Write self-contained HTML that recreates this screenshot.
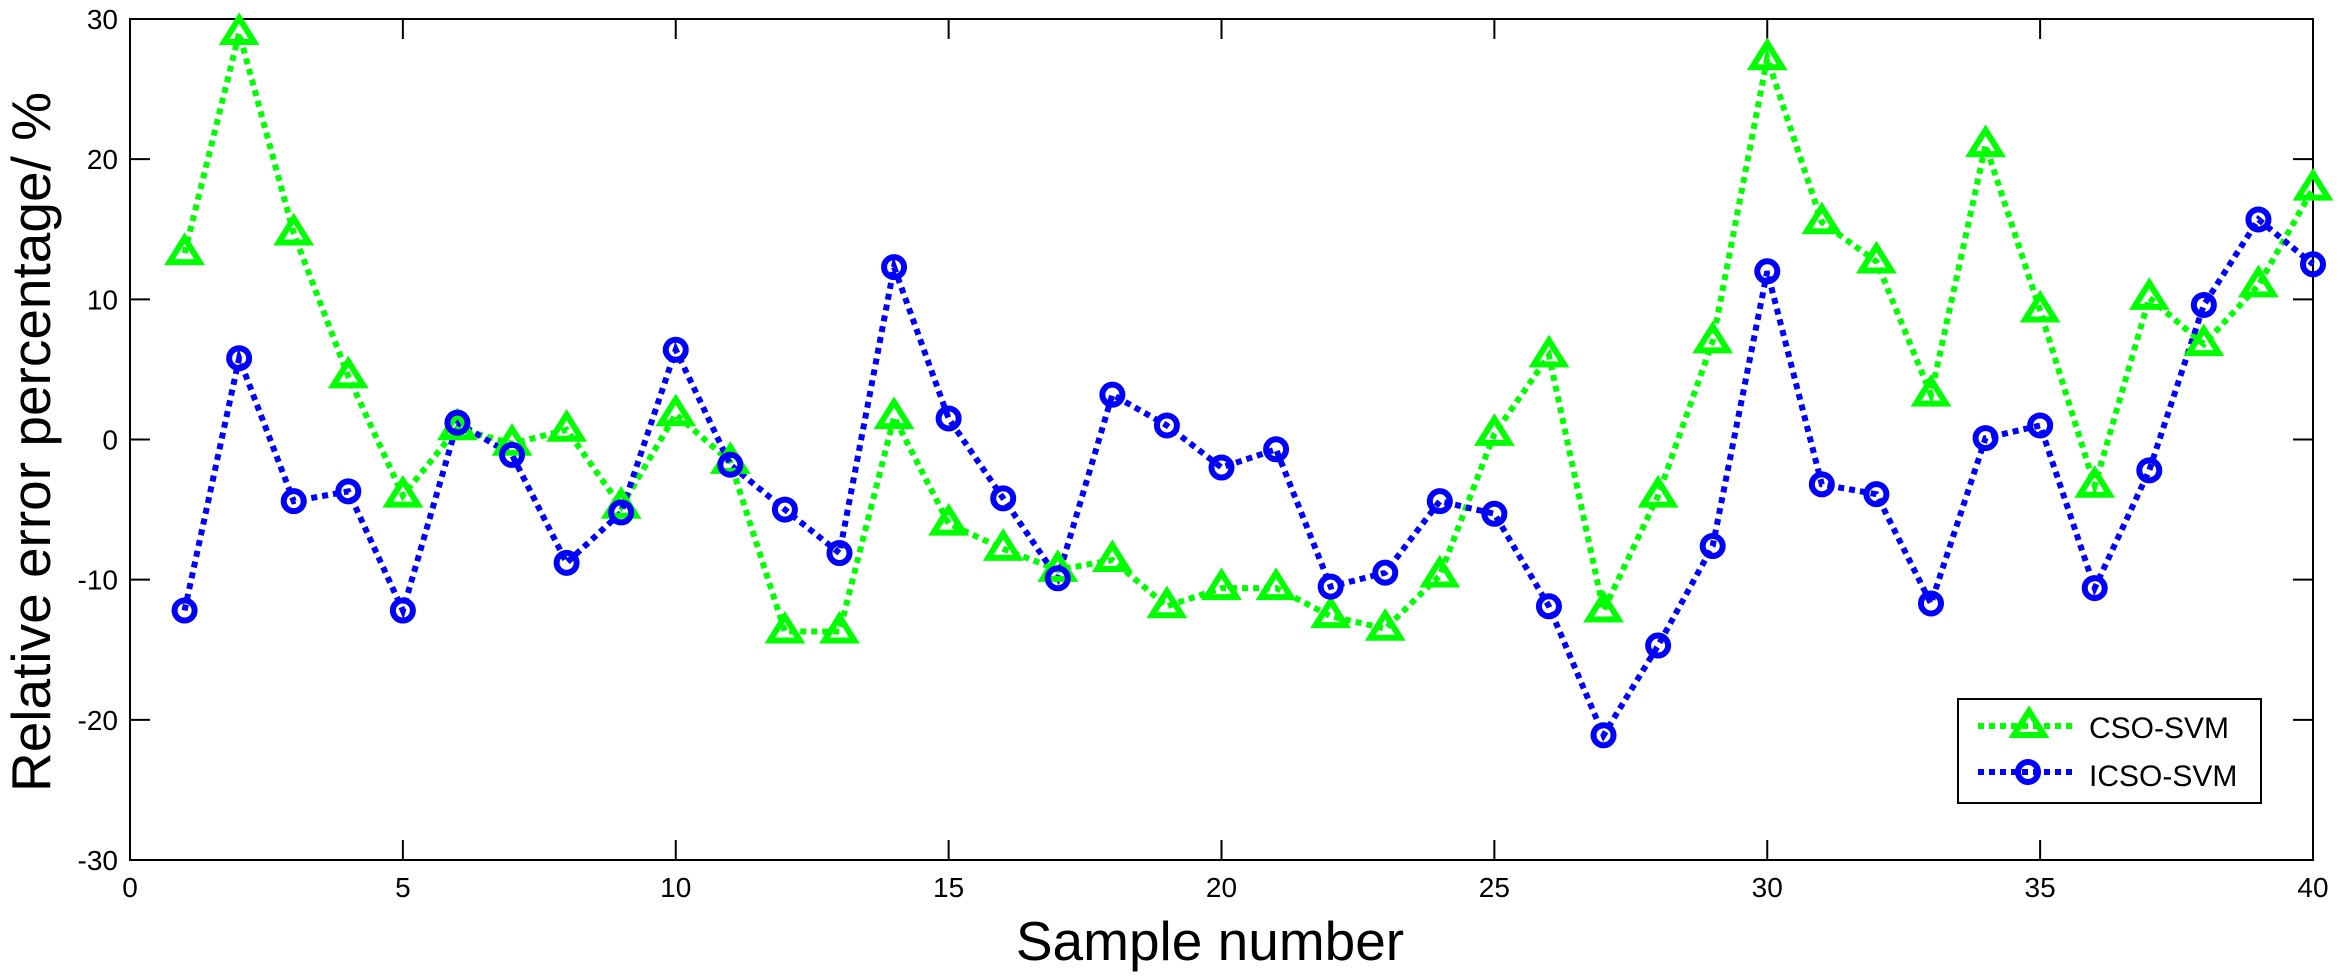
<!DOCTYPE html>
<html><head><meta charset="utf-8"><style>html,body{margin:0;padding:0;background:#fff;}svg{display:block;}</style></head>
<body>
<svg width="2346" height="980" xmlns="http://www.w3.org/2000/svg" font-family="Liberation Sans, Arial, sans-serif">
<rect width="2346" height="980" fill="#fff"/>
<g id="axes" stroke="#000" stroke-width="2" fill="none">
<rect x="130" y="19" width="2183" height="841"/>
</g>
<g id="ticks" stroke="#000" stroke-width="2"></g>
<g id="labels" font-size="28" fill="#000"></g>
<text x="1210" y="960" font-size="55" fill="#000" text-anchor="middle">Sample number</text>
<text transform="translate(50,442) rotate(-90)" font-size="55" fill="#000" text-anchor="middle">Relative error percentage/ %</text>
<g id="series"></g>
<g id="legend">
<rect x="1958" y="699" width="303" height="104" fill="#fff" stroke="#000" stroke-width="2"/>
<line x1="1978" y1="726" x2="2073" y2="726" stroke="#00ff00" stroke-width="6" stroke-dasharray="6,5"/>
<polygon points="2029,711 2044,735 2014,735" fill="none" stroke="#00ff00" stroke-width="6" stroke-linejoin="miter"/>
<text x="2089" y="738" font-size="30">CSO-SVM</text>
<line x1="1978" y1="772" x2="2073" y2="772" stroke="#0000ff" stroke-width="6" stroke-dasharray="6,5"/>
<circle cx="2028" cy="772" r="10" fill="none" stroke="#0000ff" stroke-width="6"/>
<text x="2089" y="786" font-size="30">ICSO-SVM</text>
</g>
</svg>
<script>
var X=function(v){return 130+v*2183/40;},Y=function(v){return 19+(30-v)*841/60;};
var ns="http://www.w3.org/2000/svg";
function el(p,t,a,txt){var e=document.createElementNS(ns,t);for(var k in a)e.setAttribute(k,a[k]);if(txt!=null)e.textContent=txt;document.getElementById(p).appendChild(e);return e;}
for(var i=0;i<=40;i+=5){var x=X(i);
 if(i>0&&i<40){el('ticks','line',{x1:x,y1:860,x2:x,y2:840});el('ticks','line',{x1:x,y1:19,x2:x,y2:39});}
 el('labels','text',{x:x,y:897,'text-anchor':'middle'},i);}
for(var v=-30;v<=30;v+=10){var y=Y(v);
 if(v>-30&&v<30){el('ticks','line',{x1:130,y1:y,x2:150,y2:y});el('ticks','line',{x1:2313,y1:y,x2:2293,y2:y});}
 el('labels','text',{x:118,y:y+10,'text-anchor':'end'},v);}
var c=[13.3,29,14.7,4.5,-4,0.8,-0.3,0.7,-4.8,1.8,-1.6,-13.7,-13.7,1.6,-6,-7.8,-9.3,-8.6,-11.9,-10.6,-10.6,-12.6,-13.5,-9.7,0.4,6,-12.2,-4,7,27.2,15.5,12.7,3.2,21,9.2,-3.3,10.1,6.8,11,17.9];
var d=[-12.2,5.8,-4.4,-3.7,-12.2,1.2,-1.1,-8.8,-5.2,6.4,-1.8,-5,-8.1,12.3,1.5,-4.2,-9.9,3.2,1,-2,-0.7,-10.5,-9.5,-4.4,-5.3,-11.9,-21.1,-14.7,-7.6,12,-3.2,-3.9,-11.7,0.1,1,-10.6,-2.2,9.6,15.7,12.5];
function pts(a){return a.map(function(v,i){return X(i+1)+','+Y(v);}).join(' ');}
el('series','polyline',{points:pts(c),fill:'none',stroke:'#00ff00','stroke-width':6,'stroke-dasharray':'6,5'});
el('series','polyline',{points:pts(d),fill:'none',stroke:'#0000ff','stroke-width':6,'stroke-dasharray':'6,5'});
c.forEach(function(v,i){var x=X(i+1),y=Y(v);el('series','polygon',{points:x+','+(y-15)+' '+(x+15)+','+(y+9)+' '+(x-15)+','+(y+9),fill:'none',stroke:'#00ff00','stroke-width':6});});
d.forEach(function(v,i){el('series','circle',{cx:X(i+1),cy:Y(v),r:10,fill:'none',stroke:'#0000ff','stroke-width':6});});
</script>
</body></html>
